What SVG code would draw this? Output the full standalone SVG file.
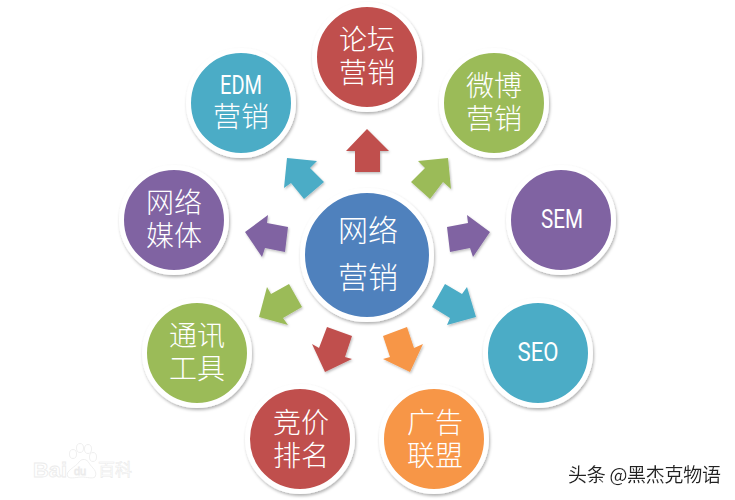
<svg xmlns="http://www.w3.org/2000/svg" width="735" height="500" viewBox="0 0 735 500">
<style>
.c{stroke:#fff;stroke-width:5;filter:url(#s)}
.t{font-family:"Noto Sans CJK SC","Noto Sans",sans-serif;font-size:28px;fill:#fff;text-anchor:middle;font-weight:300}
.b{font-size:30px}
.l{font-family:Roboto,"Liberation Sans",sans-serif;font-size:26px;fill:#fff;text-anchor:middle}
.red{fill:#C0504D}.green{fill:#9BBB59}.purple{fill:#8064A2}.teal{fill:#4BACC6}.orange{fill:#F79646}.blue{fill:#4F81BD}
.wm{font-family:"Liberation Sans",sans-serif;fill:#fff;stroke:#ebebeb;stroke-width:.8}
.wc{font-family:"Noto Sans CJK SC",sans-serif;fill:#fff;stroke:#ebebeb;stroke-width:.6}
</style>
<defs>
<filter id="s" x="-20%" y="-20%" width="140%" height="140%"><feDropShadow dx="1" dy="2" stdDeviation="1.6" flood-color="#000" flood-opacity=".3"/></filter>
<filter id="a" x="-20%" y="-20%" width="140%" height="140%"><feDropShadow dx="1" dy="1.5" stdDeviation="1" flood-color="#000" flood-opacity=".25"/></filter>
<filter id="w" x="-5%" y="-20%" width="110%" height="140%"><feDropShadow dx="1" dy="1" stdDeviation=".3" flood-color="#fff"/></filter>
</defs>
<rect width="735" height="500" fill="#fff"/>
<g id="connectors" filter="url(#a)">
<polygon class="red" points="367,129 389,151 380,151 380,172 355,172 355,151 346,151"/>
<polygon class="green" points="448,158 451,189 443,182 430,199 411,182 425,168 418,161"/>
<polygon class="purple" points="490,232 473,257 470,248 450,252 447,227 468,223 467,215"/>
<polygon class="teal" points="476,317 447,325 450,318 432,307 445,284 462,294 467,287"/>
<polygon class="orange" points="410,372 383,359 390,357 383,336 407,327 414,348 423,344"/>
<polygon class="red" points="325,372 352,359 345,357 352,336 327,327 319,348 312,344"/>
<polygon class="green" points="259,317 288,325 283,318 302,307 289,284 271,294 267,287"/>
<polygon class="purple" points="245,232 262,257 265,248 285,252 288,227 267,223 268,215"/>
<polygon class="teal" points="287,158 317,161 310,168 324,182 304,199 291,183 284,188"/>
</g>
<g id="n-center"><circle class="c blue" cx="367" cy="255" r="64.5"/><text class="t b" x="368" y="241">网络<tspan x="368" dy="47">营销</tspan></text></g>
<g id="n-luntan"><circle class="c red" cx="367" cy="57" r="52.5"/><text class="t" x="367" y="50">论坛<tspan x="367" dy="33">营销</tspan></text></g>
<g id="n-weibo"><circle class="c green" cx="494" cy="103" r="52.5"/><text class="t" x="494" y="96">微博<tspan x="494" dy="33">营销</tspan></text></g>
<g id="n-sem"><circle class="c purple" cx="561" cy="220" r="52.5"/><text class="l" x="562" y="228" textLength="42" lengthAdjust="spacingAndGlyphs">SEM</text></g>
<g id="n-seo"><circle class="c teal" cx="538" cy="353" r="52.5"/><text class="l" x="538" y="361" textLength="41" lengthAdjust="spacingAndGlyphs">SEO</text></g>
<g id="n-guanggao"><circle class="c orange" cx="434" cy="439" r="52.5"/><text class="t" x="435" y="433">广告<tspan x="435" dy="33">联盟</tspan></text></g>
<g id="n-jingjia"><circle class="c red" cx="300" cy="439" r="52.5"/><text class="t" x="301" y="433">竞价<tspan x="301" dy="33">排名</tspan></text></g>
<g id="n-tongxun"><circle class="c green" cx="197" cy="353" r="52.5"/><text class="t" x="197" y="346">通讯<tspan x="197" dy="33">工具</tspan></text></g>
<g id="n-meiti"><circle class="c purple" cx="174" cy="220" r="52.5"/><text class="t" x="174" y="213">网络<tspan x="174" dy="33">媒体</tspan></text></g>
<g id="n-edm"><circle class="c teal" cx="241" cy="103" r="52.5"/><text class="t" x="241" y="127">营销</text><text class="l" x="241" y="94" textLength="42" lengthAdjust="spacingAndGlyphs">EDM</text></g>
<g id="watermark">
<text class="wm" x="33" y="477" font-size="21" font-weight="700" textLength="34" lengthAdjust="spacingAndGlyphs">Bai</text>
<g fill="#fff" stroke="#ebebeb" stroke-width=".8">
<ellipse cx="73" cy="454" rx="3.5" ry="4.5"/><ellipse cx="80" cy="448" rx="3.5" ry="4.5"/><ellipse cx="88" cy="449" rx="3.5" ry="4.5"/><ellipse cx="93" cy="457" rx="3.5" ry="4.5"/>
<path d="M68 477c-4-6 8-10 11-15 3-4 8-3 10 1 3 5 9 8 6 14-3 2-8 0-13 0s-11 2-14 0z"/>
</g>
<text class="wm" x="74" y="475" font-size="11" stroke-width=".5">du</text>
<text class="wc" x="98" y="476" font-size="17" textLength="34">百科</text>
</g>
<g id="credit"><text x="568" y="482" font-family="Noto Sans CJK SC,sans-serif" font-size="19" fill="#222" filter="url(#w)" textLength="153">头条 @黑杰克物语</text></g>
</svg>
